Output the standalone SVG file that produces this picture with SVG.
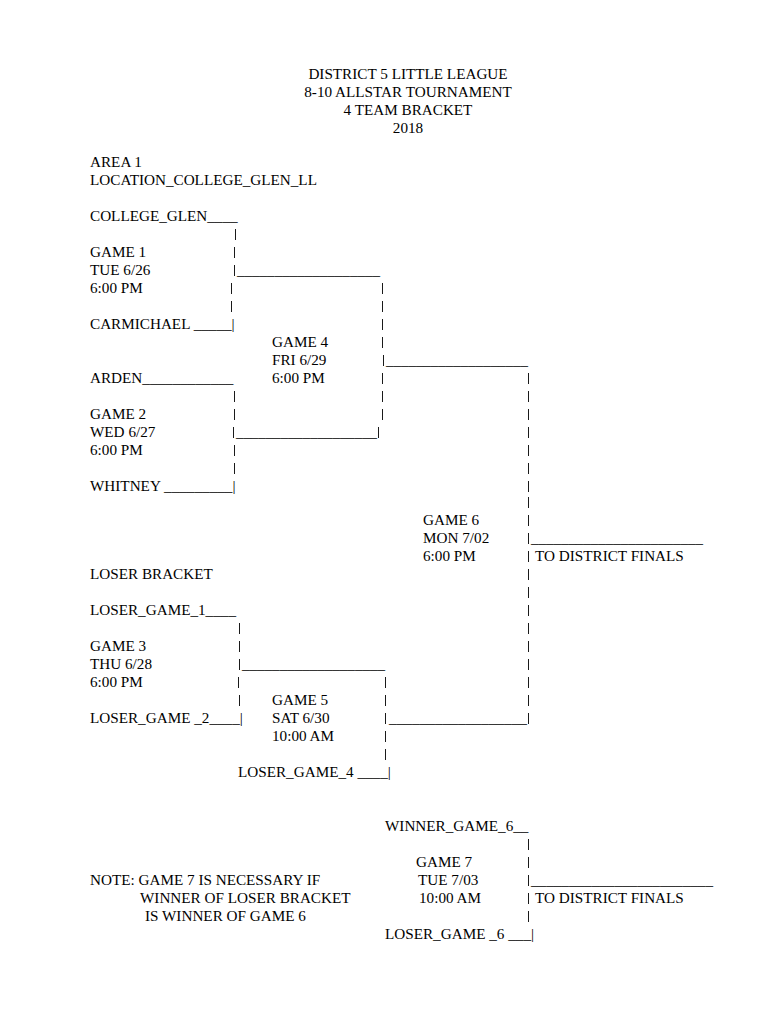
<svg xmlns="http://www.w3.org/2000/svg" width="770" height="1024" viewBox="0 0 770 1024">
<style>
text{font-family:"Liberation Serif","Times New Roman",serif;font-size:15.2px;fill:#000}
.c{text-anchor:middle}
.v{stroke:#1a1a1a;stroke-width:1;shape-rendering:crispEdges}
</style>
<rect width="770" height="1024" fill="#fff"/>
<g id="header">
<text class="c" x="408" y="79">DISTRICT 5 LITTLE LEAGUE</text>
<text class="c" x="408" y="97">8-10 ALLSTAR TOURNAMENT</text>
<text class="c" x="408" y="115">4 TEAM BRACKET</text>
<text class="c" x="408" y="133">2018</text>
</g>
<g id="area">
<text x="90" y="167">AREA 1</text>
<text x="90" y="185">LOCATION_COLLEGE_GLEN_LL</text>
</g>
<g id="game1">
<text x="90" y="221">COLLEGE_GLEN____</text>
<text x="90" y="257">GAME 1</text>
<text x="90" y="275">TUE 6/26</text>
<text x="90" y="293">6:00 PM</text>
<text x="90" y="329">CARMICHAEL _____|</text>
</g>
<g id="game2">
<text x="90" y="383">ARDEN____________</text>
<text x="90" y="419">GAME 2</text>
<text x="90" y="437">WED 6/27</text>
<text x="90" y="455">6:00 PM</text>
<text x="90" y="491">WHITNEY _________|</text>
</g>
<g id="game4">
<text x="272" y="347">GAME 4</text>
<text x="272" y="365">FRI 6/29</text>
<text x="272" y="383">6:00 PM</text>
</g>
<g id="game6">
<text x="423" y="525">GAME 6</text>
<text x="423" y="543">MON 7/02</text>
<text x="423" y="561">6:00 PM</text>
<text x="535" y="561">TO DISTRICT FINALS</text>
</g>
<g id="game3">
<text x="90" y="579">LOSER BRACKET</text>
<text x="90" y="615">LOSER_GAME_1____</text>
<text x="90" y="651">GAME 3</text>
<text x="90" y="669">THU 6/28</text>
<text x="90" y="687">6:00 PM</text>
<text x="90" y="723">LOSER_GAME _2____|</text>
</g>
<g id="game5">
<text x="272" y="705">GAME 5</text>
<text x="272" y="723">SAT 6/30</text>
<text x="272" y="741">10:00 AM</text>
<text x="238" y="777">LOSER_GAME_4 ____|</text>
</g>
<g id="game7">
<text x="385" y="831">WINNER_GAME_6__</text>
<text x="416" y="867">GAME 7</text>
<text x="418" y="885">TUE 7/03</text>
<text x="419" y="903">10:00 AM</text>
<text x="535" y="903">TO DISTRICT FINALS</text>
<text x="385" y="939">LOSER_GAME _6 ___|</text>
</g>
<g id="note">
<text x="90" y="885">NOTE: GAME 7 IS NECESSARY IF</text>
<text x="140" y="903">WINNER OF LOSER BRACKET</text>
<text x="145" y="921">IS WINNER OF GAME 6</text>
</g>
<g id="connectors">
<text x="237" y="275" textLength="143" lengthAdjust="spacingAndGlyphs">___________________</text>
<text x="386" y="365" textLength="142" lengthAdjust="spacingAndGlyphs">___________________</text>
<text x="236" y="437" textLength="141" lengthAdjust="spacingAndGlyphs">___________________</text>
<text x="531" y="543" textLength="172" lengthAdjust="spacingAndGlyphs">_______________________</text>
<text x="242" y="669" textLength="143" lengthAdjust="spacingAndGlyphs">___________________</text>
<text x="389" y="723" textLength="138" lengthAdjust="spacingAndGlyphs">__________________</text>
<text x="531" y="885" textLength="182" lengthAdjust="spacingAndGlyphs">________________________</text>
<line class="v" x1="235.5" y1="229" x2="235.5" y2="240"/>
<line class="v" x1="234.5" y1="247" x2="234.5" y2="258"/>
<line class="v" x1="234.5" y1="265" x2="234.5" y2="276"/>
<line class="v" x1="231.5" y1="283" x2="231.5" y2="294"/>
<line class="v" x1="231.5" y1="301" x2="231.5" y2="312"/>
<line class="v" x1="382.5" y1="283" x2="382.5" y2="294"/>
<line class="v" x1="382.5" y1="301" x2="382.5" y2="312"/>
<line class="v" x1="382.5" y1="319" x2="382.5" y2="330"/>
<line class="v" x1="382.5" y1="337" x2="382.5" y2="348"/>
<line class="v" x1="383.5" y1="355" x2="383.5" y2="366"/>
<line class="v" x1="382.5" y1="373" x2="382.5" y2="384"/>
<line class="v" x1="382.5" y1="391" x2="382.5" y2="402"/>
<line class="v" x1="382.5" y1="409" x2="382.5" y2="420"/>
<line class="v" x1="234.5" y1="391" x2="234.5" y2="402"/>
<line class="v" x1="234.5" y1="409" x2="234.5" y2="420"/>
<line class="v" x1="233.5" y1="427" x2="233.5" y2="438"/>
<line class="v" x1="378.5" y1="427" x2="378.5" y2="438"/>
<line class="v" x1="234.5" y1="445" x2="234.5" y2="456"/>
<line class="v" x1="234.5" y1="463" x2="234.5" y2="474"/>
<line class="v" x1="528.5" y1="373" x2="528.5" y2="384"/>
<line class="v" x1="528.5" y1="391" x2="528.5" y2="402"/>
<line class="v" x1="528.5" y1="409" x2="528.5" y2="420"/>
<line class="v" x1="528.5" y1="427" x2="528.5" y2="438"/>
<line class="v" x1="528.5" y1="445" x2="528.5" y2="456"/>
<line class="v" x1="528.5" y1="463" x2="528.5" y2="474"/>
<line class="v" x1="528.5" y1="481" x2="528.5" y2="492"/>
<line class="v" x1="528.5" y1="497" x2="528.5" y2="508"/>
<line class="v" x1="528.5" y1="515" x2="528.5" y2="526"/>
<line class="v" x1="528.5" y1="533" x2="528.5" y2="544"/>
<line class="v" x1="528.5" y1="551" x2="528.5" y2="562"/>
<line class="v" x1="528.5" y1="569" x2="528.5" y2="580"/>
<line class="v" x1="528.5" y1="587" x2="528.5" y2="598"/>
<line class="v" x1="528.5" y1="605" x2="528.5" y2="616"/>
<line class="v" x1="528.5" y1="623" x2="528.5" y2="634"/>
<line class="v" x1="528.5" y1="641" x2="528.5" y2="652"/>
<line class="v" x1="528.5" y1="659" x2="528.5" y2="670"/>
<line class="v" x1="528.5" y1="677" x2="528.5" y2="688"/>
<line class="v" x1="528.5" y1="695" x2="528.5" y2="706"/>
<line class="v" x1="528.5" y1="713" x2="528.5" y2="724"/>
<line class="v" x1="239.5" y1="623" x2="239.5" y2="634"/>
<line class="v" x1="239.5" y1="641" x2="239.5" y2="652"/>
<line class="v" x1="239.5" y1="659" x2="239.5" y2="670"/>
<line class="v" x1="238.5" y1="677" x2="238.5" y2="688"/>
<line class="v" x1="239.5" y1="695" x2="239.5" y2="706"/>
<line class="v" x1="385.5" y1="677" x2="385.5" y2="688"/>
<line class="v" x1="385.5" y1="695" x2="385.5" y2="706"/>
<line class="v" x1="385.5" y1="713" x2="385.5" y2="724"/>
<line class="v" x1="385.5" y1="731" x2="385.5" y2="742"/>
<line class="v" x1="385.5" y1="749" x2="385.5" y2="760"/>
<line class="v" x1="528.5" y1="839" x2="528.5" y2="850"/>
<line class="v" x1="528.5" y1="857" x2="528.5" y2="868"/>
<line class="v" x1="528.5" y1="875" x2="528.5" y2="886"/>
<line class="v" x1="528.5" y1="893" x2="528.5" y2="904"/>
<line class="v" x1="528.5" y1="911" x2="528.5" y2="922"/>
</g>
</svg>
